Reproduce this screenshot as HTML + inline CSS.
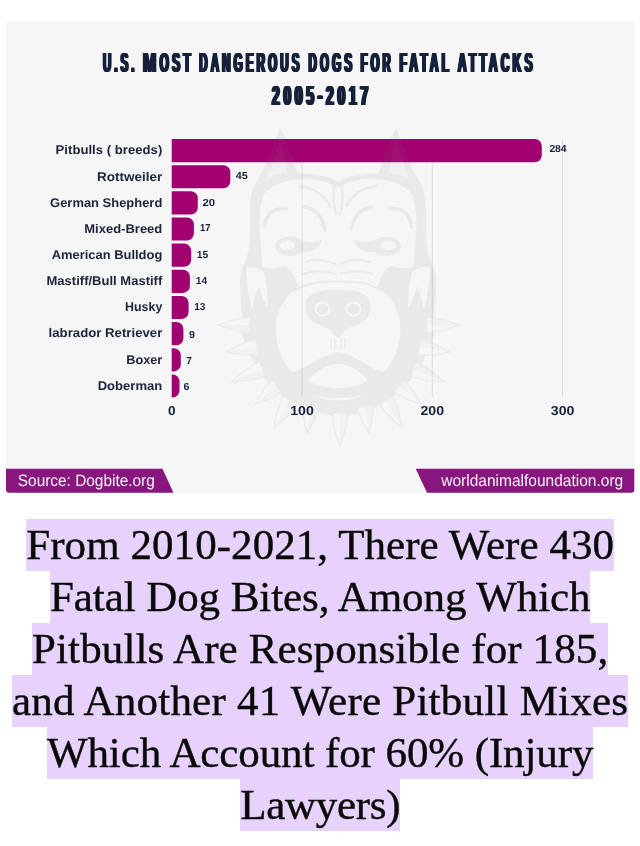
<!DOCTYPE html>
<html lang="en"><head><meta charset="utf-8"><title>U.S. Most Dangerous Dogs for Fatal Attacks 2005-2017</title>
<style>
html,body{margin:0;padding:0;background:#fff;}
body{width:640px;height:846px;position:relative;overflow:hidden;font-family:"Liberation Sans",sans-serif;}
#chart{position:absolute;left:0;top:0;width:640px;height:500px;display:block;}
#chart text{font-family:"Liberation Sans",sans-serif;text-rendering:geometricPrecision;}
.ttl{position:absolute;left:0;width:640px;margin:0;white-space:nowrap;font-family:"Liberation Sans",sans-serif;font-weight:bold;font-size:27.8px;line-height:34px;height:34px;color:#15213b;text-shadow:1.3px 0 0 #15213b,-1.3px 0 0 #15213b,2.6px 0 0 #15213b,-2.6px 0 0 #15213b;letter-spacing:7.5px;}
.ttl span{position:absolute;top:0;left:0;display:block;transform-origin:0 50%;}
#t1{top:45.6px}.ttl b{display:inline-block;font-weight:bold;transform:scaleX(1.35);transform-origin:0 50%;margin-right:8.3px;text-shadow:0.9px 0 0 #15213b,-0.9px 0 0 #15213b,1.8px 0 0 #15213b,-1.8px 0 0 #15213b;}#t2{top:78.6px}
#cap{position:absolute;left:0.2px;top:519px;-webkit-text-stroke:0.4px #0a0a0a;width:640px;margin:0;text-align:center;font-family:"Liberation Serif",serif;font-size:43px;line-height:52px;color:#0a0a0a;}
#cap .l{display:block;height:52px;white-space:nowrap;margin:0 -50px;}
#cap .l span{display:inline-block;height:52px;background:#e7d2fb;}
</style></head><body>
<svg id="chart" width="640" height="500" viewBox="0 0 640 500">
<rect x="6" y="21.3" width="628.3" height="471.4" rx="4" fill="#f6f6f6"/>

<line x1="302.0" y1="139" x2="302.0" y2="397" stroke="#dcdcdc" stroke-width="1"/>
<line x1="432.3" y1="139" x2="432.3" y2="397" stroke="#dcdcdc" stroke-width="1"/>
<line x1="562.6" y1="139" x2="562.6" y2="397" stroke="#dcdcdc" stroke-width="1"/>
<path d="M171.7 139.0H534.8A7.0 7.0 0 0 1 541.8 146.0V155.2A7.0 7.0 0 0 1 534.8 162.2H171.7Z" fill="#a3006f"/>
<text x="162.3" y="154.4" text-anchor="end" font-weight="bold" font-size="12.6" fill="#1b2438" textLength="106.7" lengthAdjust="spacingAndGlyphs">Pitbulls ( breeds)</text>
<text x="549.4" y="152.1" font-weight="bold" font-size="10.2" fill="#15213b" textLength="17.2" lengthAdjust="spacingAndGlyphs">284</text>
<path d="M171.7 165.2H223.3A7.0 7.0 0 0 1 230.3 172.2V181.3A7.0 7.0 0 0 1 223.3 188.3H171.7Z" fill="#a3006f"/>
<text x="162.3" y="180.6" text-anchor="end" font-weight="bold" font-size="12.6" fill="#1b2438" textLength="65.2" lengthAdjust="spacingAndGlyphs">Rottweiler</text>
<text x="235.7" y="178.7" font-weight="bold" font-size="10.2" fill="#15213b" textLength="12" lengthAdjust="spacingAndGlyphs">45</text>
<path d="M171.7 191.3H190.8A7.0 7.0 0 0 1 197.8 198.3V207.5A7.0 7.0 0 0 1 190.8 214.5H171.7Z" fill="#a3006f"/>
<text x="162.3" y="206.7" text-anchor="end" font-weight="bold" font-size="12.6" fill="#1b2438" textLength="112.2" lengthAdjust="spacingAndGlyphs">German Shepherd</text>
<text x="202.4" y="205.7" font-weight="bold" font-size="10.2" fill="#15213b" textLength="12.7" lengthAdjust="spacingAndGlyphs">20</text>
<path d="M171.7 217.4H186.9A7.0 7.0 0 0 1 193.9 224.4V233.6A7.0 7.0 0 0 1 186.9 240.6H171.7Z" fill="#a3006f"/>
<text x="162.3" y="232.8" text-anchor="end" font-weight="bold" font-size="12.6" fill="#1b2438" textLength="78.0" lengthAdjust="spacingAndGlyphs">Mixed-Breed</text>
<text x="200.0" y="231.3" font-weight="bold" font-size="10.2" fill="#15213b" textLength="10.6" lengthAdjust="spacingAndGlyphs">17</text>
<path d="M171.7 243.6H184.2A7.0 7.0 0 0 1 191.2 250.6V259.8A7.0 7.0 0 0 1 184.2 266.8H171.7Z" fill="#a3006f"/>
<text x="162.3" y="259.0" text-anchor="end" font-weight="bold" font-size="12.6" fill="#1b2438" textLength="110.6" lengthAdjust="spacingAndGlyphs">American Bulldog</text>
<text x="196.7" y="257.5" font-weight="bold" font-size="10.2" fill="#15213b" textLength="11.5" lengthAdjust="spacingAndGlyphs">15</text>
<path d="M171.7 269.8H182.9A7.0 7.0 0 0 1 189.9 276.8V285.9A7.0 7.0 0 0 1 182.9 292.9H171.7Z" fill="#a3006f"/>
<text x="162.3" y="285.1" text-anchor="end" font-weight="bold" font-size="12.6" fill="#1b2438" textLength="115.8" lengthAdjust="spacingAndGlyphs">Mastiff/Bull Mastiff</text>
<text x="195.8" y="283.6" font-weight="bold" font-size="10.2" fill="#15213b" textLength="11.3" lengthAdjust="spacingAndGlyphs">14</text>
<path d="M171.7 295.9H181.6A7.0 7.0 0 0 1 188.6 302.9V312.1A7.0 7.0 0 0 1 181.6 319.1H171.7Z" fill="#a3006f"/>
<text x="162.3" y="311.3" text-anchor="end" font-weight="bold" font-size="12.6" fill="#1b2438" textLength="37.2" lengthAdjust="spacingAndGlyphs">Husky</text>
<text x="194.2" y="309.8" font-weight="bold" font-size="10.2" fill="#15213b" textLength="11.2" lengthAdjust="spacingAndGlyphs">13</text>
<path d="M171.7 322.0H176.4A7.0 7.0 0 0 1 183.4 329.0V338.2A7.0 7.0 0 0 1 176.4 345.2H171.7Z" fill="#a3006f"/>
<text x="162.3" y="337.4" text-anchor="end" font-weight="bold" font-size="12.6" fill="#1b2438" textLength="113.7" lengthAdjust="spacingAndGlyphs">labrador Retriever</text>
<text x="189.0" y="338.3" font-weight="bold" font-size="10.2" fill="#15213b" textLength="5.9" lengthAdjust="spacingAndGlyphs">9</text>
<path d="M171.7 348.2H173.8A7.0 7.0 0 0 1 180.8 355.2V364.4A7.0 7.0 0 0 1 173.8 371.4H171.7Z" fill="#a3006f"/>
<text x="162.3" y="363.6" text-anchor="end" font-weight="bold" font-size="12.6" fill="#1b2438" textLength="36.0" lengthAdjust="spacingAndGlyphs">Boxer</text>
<text x="186.2" y="363.6" font-weight="bold" font-size="10.2" fill="#15213b" textLength="5.6" lengthAdjust="spacingAndGlyphs">7</text>
<path d="M171.7 374.4H172.5A7.0 7.0 0 0 1 179.5 381.4V390.6A7.0 7.0 0 0 1 172.5 397.6H171.7Z" fill="#a3006f"/>
<text x="162.3" y="389.8" text-anchor="end" font-weight="bold" font-size="12.6" fill="#1b2438" textLength="64.6" lengthAdjust="spacingAndGlyphs">Doberman</text>
<text x="183.5" y="389.6" font-weight="bold" font-size="10.2" fill="#15213b" textLength="5.9" lengthAdjust="spacingAndGlyphs">6</text>
<g id="dog" opacity="0.09">
<path fill="none" stroke="#6f6f6f" stroke-width="15" d="M247 322 C252 350 268 378 292 394 C306 403 322 408 338 408 C354 408 370 403 384 394 C408 378 424 350 429 322"/>
<path fill="#6f6f6f" d="M338 182 C330 176 318 174 297 173 C293 158 287 140 280 128.5 C276 138 272 148 269 158 C265 168 259 177 254 186 C251 193 250 200 250 208 L250 236 C250 246 248 254 245 262 C242 268 240 274 240 282 L241 305 C241 312 243 319 246 325 C249 332 252 339 256 345 C260 352 264 359 268 365 C273 372 279 378 285 382 C292 387 298 391 305 394 C316 397 327 398 338 398 Z"/>
<path fill="#b8b8b8" d="M280 140 C277 152 272 164 266 180 C271 176 278 174 287 173 C285 162 283 151 280 140 Z"/>
<path fill="#ffffff" d="M338 188 C328 181 312 178 298 179 C285 180 272 185 264 194 C260 204 259 220 260 232 C261 246 262 258 262 266 C268 270 276 268 286 266 C292 270 296 280 299 288 L338 284 Z"/>
<path fill="#ffffff" d="M246 268 C247 282 248 296 252 310 C254 300 256 292 259 286 C261 294 264 302 268 308 C268 296 267 284 264 272 C258 268 252 266 246 268 Z"/>
<path fill="#ffffff" d="M338 281 C322 281 304 284 292 292 C280 302 274 320 276 336 C278 352 284 364 292 372 C304 370 322 358 338 354 Z"/>
<path fill="#ffffff" d="M338 364 C328 364 316 370 308 381 C318 386 328 388 338 388 Z"/>
<path fill="none" stroke="#6f6f6f" stroke-width="3.4" stroke-linecap="round" d="M264.5 227 C265 218 270 211 277 209.5 C281 208.5 284 208.5 287 208.5"/>
<path fill="none" stroke="#6f6f6f" stroke-width="3.4" stroke-linecap="round" d="M304 207 C314 208 322 215 325 230"/>
<path fill="none" stroke="#6f6f6f" stroke-width="2.6" stroke-linecap="round" d="M300 186 C312 188 324 194 330 206"/>
<path fill="none" stroke="#6f6f6f" stroke-width="2.4" stroke-linecap="round" d="M334.5 186 C333 196 333.5 206 336 214"/>
<path fill="#6f6f6f" d="M275 245 C278 237 290 234 299 239 C308 244 316 242 322 239 C320 248 312 253 302 252 C296 257 284 257 278 252 C276 250 275 248 275 245 Z"/>
<ellipse cx="287.5" cy="245.5" rx="7.5" ry="4.6" fill="#ffffff"/>
<path fill="none" stroke="#6f6f6f" stroke-width="2.2" stroke-linecap="round" d="M306 262 C316 258 328 260 336 264"/>
<path fill="none" stroke="#6f6f6f" stroke-width="2.2" stroke-linecap="round" d="M303 274 C314 270 326 271 336 274"/>
<path fill="none" stroke="#6f6f6f" stroke-width="2" stroke-linecap="round" d="M296 290 C306 283 322 281 338 281.5"/>
<path fill="#6f6f6f" d="M338 290 C326 289 312 291 307 299 C304 307 306 317 313 322 C321 327 330 326 333 334 L338 338 Z"/>
<ellipse cx="322.5" cy="309" rx="7" ry="6.5" fill="none" stroke="#ffffff" stroke-width="2"/>
<path fill="#6f6f6f" d="M338 352 C326 354 314 362 296 372 C306 372 320 366 338 362 Z"/>
<path fill="none" stroke="#6f6f6f" stroke-width="1.4" d="M331 338 L331 349 M335 338 L335 350"/>
<g transform="translate(676,0) scale(-1,1)">
<path fill="#6f6f6f" d="M338 182 C330 176 318 174 297 173 C293 158 287 140 280 128.5 C276 138 272 148 269 158 C265 168 259 177 254 186 C251 193 250 200 250 208 L250 236 C250 246 248 254 245 262 C242 268 240 274 240 282 L241 305 C241 312 243 319 246 325 C249 332 252 339 256 345 C260 352 264 359 268 365 C273 372 279 378 285 382 C292 387 298 391 305 394 C316 397 327 398 338 398 Z"/>
<path fill="#b8b8b8" d="M280 140 C277 152 272 164 266 180 C271 176 278 174 287 173 C285 162 283 151 280 140 Z"/>
<path fill="#ffffff" d="M338 188 C328 181 312 178 298 179 C285 180 272 185 264 194 C260 204 259 220 260 232 C261 246 262 258 262 266 C268 270 276 268 286 266 C292 270 296 280 299 288 L338 284 Z"/>
<path fill="#ffffff" d="M246 268 C247 282 248 296 252 310 C254 300 256 292 259 286 C261 294 264 302 268 308 C268 296 267 284 264 272 C258 268 252 266 246 268 Z"/>
<path fill="#ffffff" d="M338 281 C322 281 304 284 292 292 C280 302 274 320 276 336 C278 352 284 364 292 372 C304 370 322 358 338 354 Z"/>
<path fill="#ffffff" d="M338 364 C328 364 316 370 308 381 C318 386 328 388 338 388 Z"/>
<path fill="none" stroke="#6f6f6f" stroke-width="3.4" stroke-linecap="round" d="M264.5 227 C265 218 270 211 277 209.5 C281 208.5 284 208.5 287 208.5"/>
<path fill="none" stroke="#6f6f6f" stroke-width="3.4" stroke-linecap="round" d="M304 207 C314 208 322 215 325 230"/>
<path fill="none" stroke="#6f6f6f" stroke-width="2.6" stroke-linecap="round" d="M300 186 C312 188 324 194 330 206"/>
<path fill="none" stroke="#6f6f6f" stroke-width="2.4" stroke-linecap="round" d="M334.5 186 C333 196 333.5 206 336 214"/>
<path fill="#6f6f6f" d="M275 245 C278 237 290 234 299 239 C308 244 316 242 322 239 C320 248 312 253 302 252 C296 257 284 257 278 252 C276 250 275 248 275 245 Z"/>
<ellipse cx="287.5" cy="245.5" rx="7.5" ry="4.6" fill="#ffffff"/>
<path fill="none" stroke="#6f6f6f" stroke-width="2.2" stroke-linecap="round" d="M306 262 C316 258 328 260 336 264"/>
<path fill="none" stroke="#6f6f6f" stroke-width="2.2" stroke-linecap="round" d="M303 274 C314 270 326 271 336 274"/>
<path fill="none" stroke="#6f6f6f" stroke-width="2" stroke-linecap="round" d="M296 290 C306 283 322 281 338 281.5"/>
<path fill="#6f6f6f" d="M338 290 C326 289 312 291 307 299 C304 307 306 317 313 322 C321 327 330 326 333 334 L338 338 Z"/>
<ellipse cx="322.5" cy="309" rx="7" ry="6.5" fill="none" stroke="#ffffff" stroke-width="2"/>
<path fill="#6f6f6f" d="M338 352 C326 354 314 362 296 372 C306 372 320 366 338 362 Z"/>
<path fill="none" stroke="#6f6f6f" stroke-width="1.4" d="M331 338 L331 349 M335 338 L335 350"/>
</g>
<path fill="#ffffff" stroke="#6f6f6f" stroke-opacity="0.8" stroke-width="1.5" stroke-linejoin="round" d="M250.0 317.0 Q235.6 318.2 218.0 325.0 Q235.6 331.8 250.0 333.0 Z"/>
<path fill="#6f6f6f" opacity="0.4" d="M250.0 325.0 L218.0 325.0 Q235.6 331.8 250.0 333.0 Z"/>
<path fill="#ffffff" stroke="#6f6f6f" stroke-opacity="0.8" stroke-width="1.5" stroke-linejoin="round" d="M255.7 339.1 Q242.0 342.5 226.0 352.0 Q244.1 356.0 258.3 354.9 Z"/>
<path fill="#6f6f6f" opacity="0.4" d="M257.0 347.0 L226.0 352.0 Q244.1 356.0 258.3 354.9 Z"/>
<path fill="#ffffff" stroke="#6f6f6f" stroke-opacity="0.8" stroke-width="1.5" stroke-linejoin="round" d="M260.0 361.6 Q246.0 368.6 231.0 382.0 Q251.2 381.1 266.0 376.4 Z"/>
<path fill="#6f6f6f" opacity="0.4" d="M263.0 369.0 L231.0 382.0 Q251.2 381.1 266.0 376.4 Z"/>
<path fill="#ffffff" stroke="#6f6f6f" stroke-opacity="0.8" stroke-width="1.5" stroke-linejoin="round" d="M271.9 379.8 Q262.8 388.8 255.0 404.0 Q271.4 399.4 282.1 392.2 Z"/>
<path fill="#6f6f6f" opacity="0.4" d="M277.0 386.0 L255.0 404.0 Q271.4 399.4 282.1 392.2 Z"/>
<path fill="#ffffff" stroke="#6f6f6f" stroke-opacity="0.8" stroke-width="1.5" stroke-linejoin="round" d="M283.1 396.0 Q276.9 409.2 274.0 428.0 Q288.7 416.0 296.9 404.0 Z"/>
<path fill="#6f6f6f" opacity="0.4" d="M290.0 400.0 L274.0 428.0 Q288.7 416.0 296.9 404.0 Z"/>
<path fill="#ffffff" stroke="#6f6f6f" stroke-opacity="0.8" stroke-width="1.5" stroke-linejoin="round" d="M303.1 404.8 Q302.5 417.2 307.0 433.0 Q315.9 419.1 318.9 407.2 Z"/>
<path fill="#6f6f6f" opacity="0.4" d="M311.0 406.0 L307.0 433.0 Q315.9 419.1 318.9 407.2 Z"/>
<path fill="#ffffff" stroke="#6f6f6f" stroke-opacity="0.8" stroke-width="1.5" stroke-linejoin="round" d="M426.0 333.0 Q440.4 331.8 458.0 325.0 Q440.4 318.2 426.0 317.0 Z"/>
<path fill="#6f6f6f" opacity="0.4" d="M426.0 325.0 L458.0 325.0 Q440.4 318.2 426.0 317.0 Z"/>
<path fill="#ffffff" stroke="#6f6f6f" stroke-opacity="0.8" stroke-width="1.5" stroke-linejoin="round" d="M417.7 354.9 Q431.9 356.0 450.0 352.0 Q434.0 342.5 420.3 339.1 Z"/>
<path fill="#6f6f6f" opacity="0.4" d="M419.0 347.0 L450.0 352.0 Q434.0 342.5 420.3 339.1 Z"/>
<path fill="#ffffff" stroke="#6f6f6f" stroke-opacity="0.8" stroke-width="1.5" stroke-linejoin="round" d="M410.0 376.4 Q424.8 381.1 445.0 382.0 Q430.0 368.6 416.0 361.6 Z"/>
<path fill="#6f6f6f" opacity="0.4" d="M413.0 369.0 L445.0 382.0 Q430.0 368.6 416.0 361.6 Z"/>
<path fill="#ffffff" stroke="#6f6f6f" stroke-opacity="0.8" stroke-width="1.5" stroke-linejoin="round" d="M393.9 392.2 Q404.6 399.4 421.0 404.0 Q413.2 388.8 404.1 379.8 Z"/>
<path fill="#6f6f6f" opacity="0.4" d="M399.0 386.0 L421.0 404.0 Q413.2 388.8 404.1 379.8 Z"/>
<path fill="#ffffff" stroke="#6f6f6f" stroke-opacity="0.8" stroke-width="1.5" stroke-linejoin="round" d="M379.1 404.0 Q387.3 416.0 402.0 428.0 Q399.1 409.2 392.9 396.0 Z"/>
<path fill="#6f6f6f" opacity="0.4" d="M386.0 400.0 L402.0 428.0 Q399.1 409.2 392.9 396.0 Z"/>
<path fill="#ffffff" stroke="#6f6f6f" stroke-opacity="0.8" stroke-width="1.5" stroke-linejoin="round" d="M357.1 407.2 Q360.1 419.1 369.0 433.0 Q373.5 417.2 372.9 404.8 Z"/>
<path fill="#6f6f6f" opacity="0.4" d="M365.0 406.0 L369.0 433.0 Q373.5 417.2 372.9 404.8 Z"/>
<path fill="#ffffff" stroke="#6f6f6f" stroke-opacity="0.8" stroke-width="1.5" stroke-linejoin="round" d="M332.0 413.0 Q333.2 428.1 340.0 446.5 Q346.8 428.1 348.0 413.0 Z"/>
<path fill="#6f6f6f" opacity="0.4" d="M340.0 413.0 L340.0 446.5 Q346.8 428.1 348.0 413.0 Z"/>
</g>
<text x="171.7" y="414.6" text-anchor="middle" font-weight="bold" font-size="13" fill="#15213b" textLength="7.6" lengthAdjust="spacingAndGlyphs">0</text>
<text x="302.0" y="414.6" text-anchor="middle" font-weight="bold" font-size="13" fill="#15213b" textLength="23.6" lengthAdjust="spacingAndGlyphs">100</text>
<text x="432.3" y="414.6" text-anchor="middle" font-weight="bold" font-size="13" fill="#15213b" textLength="23.6" lengthAdjust="spacingAndGlyphs">200</text>
<text x="562.6" y="414.6" text-anchor="middle" font-weight="bold" font-size="13" fill="#15213b" textLength="23.6" lengthAdjust="spacingAndGlyphs">300</text>
<path d="M6 468.8H162.5L173.5 492.7H9Q6 492.7 6 489.7Z" fill="#87167e"/>
<path d="M415.7 468.8H634.3V489.7Q634.3 492.7 631.3 492.7H427Z" fill="#87167e"/>
<text x="17.8" y="486.2" font-size="16.5" fill="#fdf3fc" textLength="137" lengthAdjust="spacingAndGlyphs">Source: Dogbite.org</text>
<text x="441.2" y="486.2" font-size="16.5" fill="#fdf3fc" textLength="182" lengthAdjust="spacingAndGlyphs">worldanimalfoundation.org</text>
</svg>

<h1 class="ttl" id="t1"><span style="transform:translateX(102.96px) scaleX(0.4115)">U.S.</span> <span style="transform:translateX(142.90px) scaleX(0.4301)"><b>M</b>OST</span> <span style="transform:translateX(199.23px) scaleX(0.4166)">DANGEROUS</span> <span style="transform:translateX(308.48px) scaleX(0.4173)">DOGS</span> <span style="transform:translateX(360.68px) scaleX(0.4081)">FOR</span> <span style="transform:translateX(399.52px) scaleX(0.4288)">FATAL</span> <span style="transform:translateX(457.83px) scaleX(0.4299)">ATTACKS</span></h1>
<div class="ttl" id="t2"><span style="transform:translateX(272.05px) scaleX(0.4975)">2005-2017</span></div>
<p id="cap">
<span class="l"><span style="letter-spacing:0.06px">From 2010-2021, There Were 430</span></span>
<span class="l"><span style="letter-spacing:-0.075px">Fatal Dog Bites, Among Which</span></span>
<span class="l"><span style="letter-spacing:0.13px">Pitbulls Are Responsible for 185,</span></span>
<span class="l"><span style="letter-spacing:0.24px">and Another 41 Were Pitbull Mixes</span></span>
<span class="l"><span style="letter-spacing:-0.1px">Which Account for 60% (Injury</span></span>
<span class="l"><span style="letter-spacing:-0.3px">Lawyers)</span></span>
</p>
</body></html>
